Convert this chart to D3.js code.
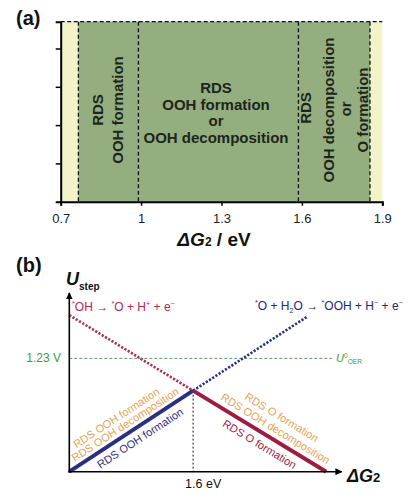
<!DOCTYPE html>
<html><head><meta charset="utf-8">
<script src="https://cdn.jsdelivr.net/npm/d3@7"></script>
<style>body{margin:0;background:#fff;} svg{display:block;font-family:"Liberation Sans",Arial,sans-serif;}</style>
</head><body><svg id="c" width="415" height="504"></svg>
<script>
// ---------- DATA : panel (a) ----------
const regionBounds = [0.7, 0.766, 0.99, 1.587, 1.854, 1.9];
const regionKinds  = ["edge", "rds", "rds", "rds", "edge"];
const xTicksA = [0.7, 1, 1.3, 1.6, 1.9];
const yTicksA = [1, 2, 3, 4];
const yMaxA = 4.7;
const region1Lines = ["RDS", "OOH formation"];
const region2Lines = ["RDS", "OOH formation", "or", "OOH decomposition"];
const region3Lines = ["RDS", "OOH decomposition", "or", "O formation"];

// ---------- DATA : panel (b) ----------
const xDomainB = [0.8, 2.56];
const yDomainB = [0, 1.94];
const peak = [1.6, 0.88];
const redStart = [0.8, 1.70];
const redEnd = [2.46, 0];
const blueStart = [0.8, 0];
const blueEnd = [2.334, 1.68];
const uOER = 1.23;
const blueLabels = ["RDS OOH formation", "RDS OOH decomposition", "RDS OOH formation"];
const redLabels  = ["RDS O formation", "RDS OOH decomposition", "RDS O formation"];

const svg = d3.select("#c");
const C = {green:"#94ae80", yellow:"#f3f3c9", ink:"#1c261c", navy:"#2b2f80", red:"#9c1d40",
           redTxt:"#b0294f", orange:"#e4a35a", gline:"#3f9a3f"};

// ---------- PANEL (a) ----------
const xA = d3.scaleLinear().domain([0.7, 1.9]).range([60.7, 382.3]);
const yA = d3.scaleLinear().domain([0, yMaxA]).range([201.7, 21.7]);
const gA = svg.append("g");

const regions = d3.range(regionKinds.length).map(i => ({x0: regionBounds[i], x1: regionBounds[i+1], kind: regionKinds[i]}));
gA.selectAll("rect.reg").data(regions).join("rect")
  .attr("x", d => xA(d.x0)).attr("width", d => xA(d.x1) - xA(d.x0))
  .attr("y", yA(yMaxA)).attr("height", yA(0) - yA(yMaxA))
  .attr("fill", d => d.kind === "edge" ? C.yellow : C.green);

gA.selectAll("line.div").data(regionBounds.slice(1, -1)).join("line")
  .attr("x1", d => xA(d)).attr("x2", d => xA(d))
  .attr("y1", yA(yMaxA)).attr("y2", yA(0))
  .attr("stroke", "#111").attr("stroke-width", 1.3).attr("stroke-dasharray", "4,2.5");

gA.append("line").attr("x1", xA(0.7)).attr("x2", xA(1.9))
  .attr("y1", yA(yMaxA)).attr("y2", yA(yMaxA))
  .attr("stroke", "#111").attr("stroke-width", 1.3).attr("stroke-dasharray", "4,2.5");

const axA = gA.append("g").attr("transform", `translate(0,${yA(0)})`)
  .call(d3.axisBottom(xA).tickValues(xTicksA).tickSize(4).tickPadding(8).tickFormat(d => String(d)));
axA.select(".domain").attr("stroke", "#000").attr("stroke-width", 2);
axA.selectAll(".tick line").attr("stroke", "#000").attr("stroke-width", 1.5);
axA.selectAll(".tick text").attr("font-size", 13).attr("fill", "#222").attr("font-family", "Liberation Sans, Arial, sans-serif");

const ayA = gA.append("g").attr("transform", `translate(${xA(0.7)},0)`)
  .call(d3.axisLeft(yA).tickValues(yTicksA).tickSize(5).tickFormat(""));
ayA.select(".domain").attr("stroke", "#000").attr("stroke-width", 2);
ayA.selectAll(".tick line").attr("stroke", "#000").attr("stroke-width", 1.5);

const boldTxt = {"font-weight": "bold", "font-size": 15, fill: C.ink};
function applyAttrs(s, a) { Object.entries(a).forEach(([k, v]) => s.attr(k, v)); return s; }

const r1Off = [103, 123], r1Y = 110;
region1Lines.forEach((t, i) => applyAttrs(gA.append("text"), boldTxt)
  .attr("text-anchor", "middle").attr("transform", `translate(${r1Off[i]},${r1Y}) rotate(-90)`).text(t));
const r2X = 216, r2Base = [93, 110, 126, 143];
region2Lines.forEach((t, i) => applyAttrs(gA.append("text"), boldTxt)
  .attr("text-anchor", "middle").attr("x", r2X).attr("y", r2Base[i]).text(t));
const r3Off = [311, 334, 351, 368], r3Y = [108, 110, 109, 110];
region3Lines.forEach((t, i) => applyAttrs(gA.append("text"), boldTxt)
  .attr("text-anchor", "middle").attr("transform", `translate(${r3Off[i]},${r3Y[i]}) rotate(-90)`).text(t));

const tA = gA.append("text").attr("x", 214).attr("y", 246).attr("text-anchor", "middle")
  .attr("font-weight", "bold").attr("font-size", 19).attr("fill", "#111");
tA.append("tspan").attr("font-style", "italic").text("ΔG");
tA.append("tspan").attr("font-size", 12).text("2");
tA.append("tspan").text(" / eV");

svg.append("text").attr("x", 16).attr("y", 25).attr("font-weight", "bold").attr("font-size", 20).attr("fill", "#111").text("(a)");
svg.append("text").attr("x", 16).attr("y", 272).attr("font-weight", "bold").attr("font-size", 20).attr("fill", "#111").text("(b)");

// ---------- PANEL (b) ----------
const xB = d3.scaleLinear().domain(xDomainB).range([69.3, 341.7]);
const yB = d3.scaleLinear().domain(yDomainB).range([471.7, 293]);
const gB = svg.append("g");

const defs = svg.append("defs");
defs.append("marker").attr("id", "arr").attr("viewBox", "0 0 10 10").attr("refX", 9).attr("refY", 5)
  .attr("markerWidth", 7).attr("markerHeight", 7).attr("markerUnits", "userSpaceOnUse").attr("orient", "auto")
  .append("path").attr("d", "M0,0 L10,5 L0,10 Z").attr("fill", "#000");

gB.append("line").attr("x1", xB(xDomainB[0])).attr("x2", 333).attr("y1", yB(uOER)).attr("y2", yB(uOER))
  .attr("stroke", C.gline).attr("stroke-width", 0.9).attr("stroke-dasharray", "3,2");

gB.append("line").attr("x1", xB(peak[0])).attr("x2", xB(peak[0])).attr("y1", yB(peak[1])).attr("y2", yB(0))
  .attr("stroke", "#111").attr("stroke-width", 1).attr("stroke-dasharray", "2,2");

const line = d3.line().x(d => xB(d[0])).y(d => yB(d[1]));
gB.append("path").attr("d", line([redStart, peak])).attr("fill", "none")
  .attr("stroke", "#a8324f").attr("stroke-width", 2.6).attr("stroke-dasharray", "2.2,1.6");
gB.append("path").attr("d", line([peak, blueEnd])).attr("fill", "none")
  .attr("stroke", C.navy).attr("stroke-width", 2.6).attr("stroke-dasharray", "2.2,1.6");
gB.append("path").attr("d", line([blueStart, peak])).attr("fill", "none")
  .attr("stroke", C.navy).attr("stroke-width", 4);
gB.append("path").attr("d", line([peak, redEnd])).attr("fill", "none")
  .attr("stroke", C.red).attr("stroke-width", 4);

gB.append("line").attr("x1", xB(xDomainB[0])).attr("x2", xB(xDomainB[0])).attr("y1", yB(0) + 1).attr("y2", yB(yDomainB[1]))
  .attr("stroke", "#000").attr("stroke-width", 1.6).attr("marker-end", "url(#arr)");
gB.append("line").attr("x1", xB(xDomainB[0]) - 1).attr("x2", xB(xDomainB[1])).attr("y1", yB(0)).attr("y2", yB(0))
  .attr("stroke", "#000").attr("stroke-width", 1.6).attr("marker-end", "url(#arr)");

function segLabels(p0, p1, texts, ts, offs, colors) {
  const a = [xB(p0[0]), yB(p0[1])], b = [xB(p1[0]), yB(p1[1])];
  const dx = b[0] - a[0], dy = b[1] - a[1], L = Math.hypot(dx, dy);
  const ux = dx / L, uy = dy / L;
  let nx = uy, ny = -ux; if (ny > 0) { nx = -nx; ny = -ny; }
  const ang = Math.atan2(dy, dx) * 180 / Math.PI;
  texts.forEach((t, i) => {
    const cx = a[0] + ux * L * ts[i] + nx * offs[i];
    const cy = a[1] + uy * L * ts[i] + ny * offs[i];
    gB.append("text").attr("transform", `translate(${cx},${cy}) rotate(${ang})`)
      .attr("text-anchor", "middle").attr("dominant-baseline", "central")
      .attr("font-size", 11).attr("fill", colors[i]).text(t);
  });
}
segLabels(blueStart, peak, blueLabels, [0.465, 0.49, 0.525], [19.5, 9, -10.5], [C.orange, C.orange, C.navy]);
segLabels(peak, redEnd, redLabels, [0.575, 0.578, 0.543], [23.5, 10.5, -11], [C.orange, C.orange, C.red]);

function rich(x, y, parts, fs, color, anchor) {
  const t = gB.append("text").attr("x", x).attr("y", y).attr("font-size", fs).attr("fill", color)
    .attr("text-anchor", anchor || "start");
  let cur = 0;
  parts.forEach(([s, k]) => {
    const target = k === "sup" ? -0.38 * fs : k === "sub" ? 0.22 * fs : 0;
    const sp = t.append("tspan").attr("dy", target - cur).text(s);
    if (k === "sup" || k === "sub") sp.attr("font-size", fs * 0.6);
    if (k === "it") sp.attr("font-style", "italic");
    if (k === "b") sp.attr("font-weight", "bold");
    cur = target;
  });
  return t;
}
rich(72, 311, [["*", "sup"], ["OH ", "n"], ["→", "b"], [" ", "n"], ["*", "sup"], ["O + H", "n"], ["+", "sup"], [" + e", "n"], ["−", "sup"]], 12, C.redTxt);
rich(255, 310, [["*", "sup"], ["O + H", "n"], ["2", "sub"], ["O ", "n"], ["→", "b"], [" ", "n"], ["*", "sup"], ["OOH + H", "n"], ["−", "sup"], [" + e", "n"], ["−", "sup"]], 12, "#262a6b");

gB.append("text").attr("x", 61).attr("y", 362).attr("text-anchor", "end").attr("font-size", 12)
  .attr("fill", C.gline).text("1.23 V");
rich(336, 362, [["U", "it"], ["0", "sup"], ["OER", "sub"]], 11, C.gline);

gB.append("text").attr("x", xB(peak[0]) - 8).attr("y", 488).attr("font-size", 12.5).attr("fill", "#111").text("1.6 eV");

const ut = gB.append("text").attr("x", 66).attr("y", 285).attr("font-weight", "bold").attr("fill", "#111");
ut.append("tspan").attr("font-style", "italic").attr("font-size", 18).text("U");
ut.append("tspan").attr("font-size", 10).attr("dy", 5).text("step");

const gt = gB.append("text").attr("x", 347).attr("y", 482).attr("font-weight", "bold").attr("fill", "#111");
gt.append("tspan").attr("font-style", "italic").attr("font-size", 18).text("ΔG");
gt.append("tspan").attr("font-size", 13).text("2");
</script></body></html>
